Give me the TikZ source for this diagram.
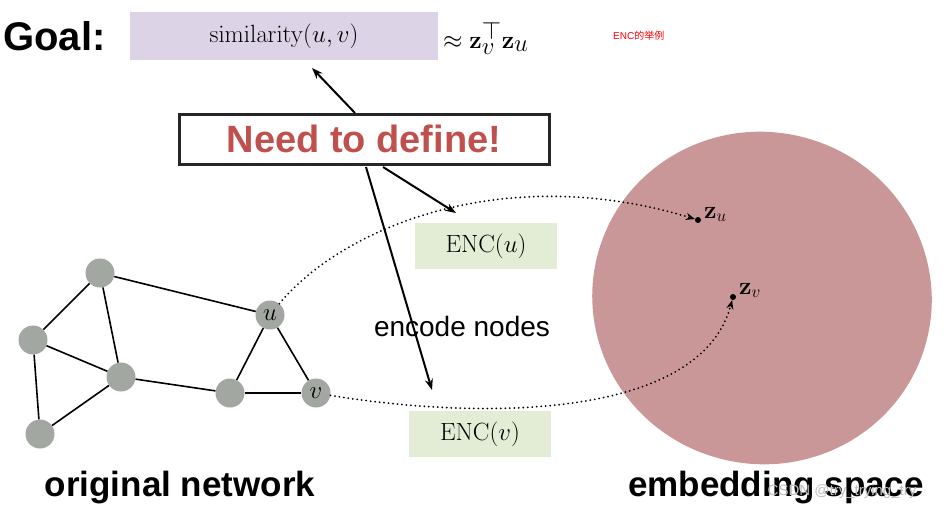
\documentclass[tikz,border=0pt]{standalone}
\usepackage{amsmath}
\usepackage[no-math]{fontspec}
\setmainfont{Liberation Sans}
\newfontfamily\cjk{Noto Sans CJK SC}
\usetikzlibrary{arrows.meta}
\definecolor{lav}{HTML}{DCD3E6}
\definecolor{grn}{HTML}{E3EDD5}
\definecolor{emb}{HTML}{C99797}
\definecolor{gnode}{HTML}{A2A7A2}
\definecolor{red1}{HTML}{C0504D}
\tikzset{
 gn/.style={circle,fill=gnode,minimum size=29pt,inner sep=0pt,font=\fontsize{26}{26}\selectfont},
 edge/.style={line width=1.6pt},
 arr/.style={line width=2pt,-{Stealth[length=11pt,width=8pt]}},
 dots/.style={line width=2pt,line cap=round,dash pattern=on 0pt off 4.5pt,-{Stealth[length=9pt,width=7pt]}},
 pt/.style={circle,fill=black,inner sep=0pt,minimum size=6pt},
 big/.style={font=\bfseries\fontsize{35}{35}\selectfont},
}
\begin{document}
\begin{tikzpicture}[x=1pt,y=-1pt]
\useasboundingbox (0,0) rectangle (944,512);
\node[anchor=west,inner sep=0pt,font=\bfseries\fontsize{40}{40}\selectfont] (goal) at (3,36) {Goal:};
\node[fill=lav,minimum width=308pt,minimum height=48pt,inner sep=0pt] (sim) at (284,36) {\fontsize{33}{33}\selectfont$\mathrm{similarity}(u,v)$};
\node[anchor=west,inner sep=0pt] (approx) at (443,38) {\fontsize{33}{33}\selectfont$\approx \mathbf{z}_v^{\top}\mathbf{z}_u$};
\node[anchor=west,inner sep=0pt,text=red,font=\fontsize{10}{10}\selectfont] (note) at (613,36) {ENC{\cjk 的举例}};
\node[draw=black!85,line width=3pt,minimum width=370pt,minimum height=50pt,inner sep=0pt,text=red1,font=\bfseries\fontsize{38}{38}\selectfont] (need) at (364,139) {Need to define!};
\node[fill=grn,minimum width=142pt,minimum height=46pt,inner sep=0pt] (encu) at (486,246) {\fontsize{30}{30}\selectfont$\mathrm{ENC}(u)$};
\node[fill=grn,minimum width=142pt,minimum height=46pt,inner sep=0pt] (encv) at (480,434) {\fontsize{30}{30}\selectfont$\mathrm{ENC}(v)$};
\node[font=\fontsize{28}{28}\selectfont] (encn) at (462,326) {encode nodes};
\fill[emb,rotate around={-15:(762,298)}] (762,298) ellipse [x radius=170pt,y radius=166pt];
\node[pt] (zu) at (698,220) {};
\node[anchor=south west,inner sep=2pt] (zul) at (702,224) {\fontsize{24}{24}\selectfont$\mathbf{z}_u$};
\node[pt] (zv) at (733,297) {};
\node[anchor=south west,inner sep=2pt] (zvl) at (737,300) {\fontsize{24}{24}\selectfont$\mathbf{z}_v$};
\coordinate (a1) at (355,113); \coordinate (a1e) at (312,68);
\coordinate (a2) at (383,167); \coordinate (a2e) at (456,213);
\coordinate (a3) at (366,167); \coordinate (a3e) at (432,390);
\draw[arr] (a1) -- (a1e);
\draw[arr] (a2) -- (a2e);
\draw[arr] (a3) -- (a3e);
\node[gn] (a) at (100,273) {};
\node[gn] (b) at (33,340) {};
\node[gn] (c) at (121,377) {};
\node[gn] (d) at (40,434) {};
\node[gn] (e) at (230,393) {};
\node[gn] (u) at (270,315) {$u$};
\node[gn] (v) at (316,393) {$v$};
\foreach \p/\q in {a/b,a/c,b/c,b/d,c/d,a/u,c/e,e/u,e/v,u/v} \draw[edge] (\p)--(\q);
\draw[dots] (u) .. controls (340,230) and (500,160) .. (zu);
\draw[dots] (v) .. controls (480,420) and (700,420) .. (zv);
\node[big] (orig) at (180,488) {original network};
\node[big] (embl) at (776,488) {embedding space};
\node[text=gray!50,font=\fontsize{15}{15}\selectfont] (wm) at (842,492) {CSDN @try\_trying\_try};
\end{tikzpicture}
\end{document}
